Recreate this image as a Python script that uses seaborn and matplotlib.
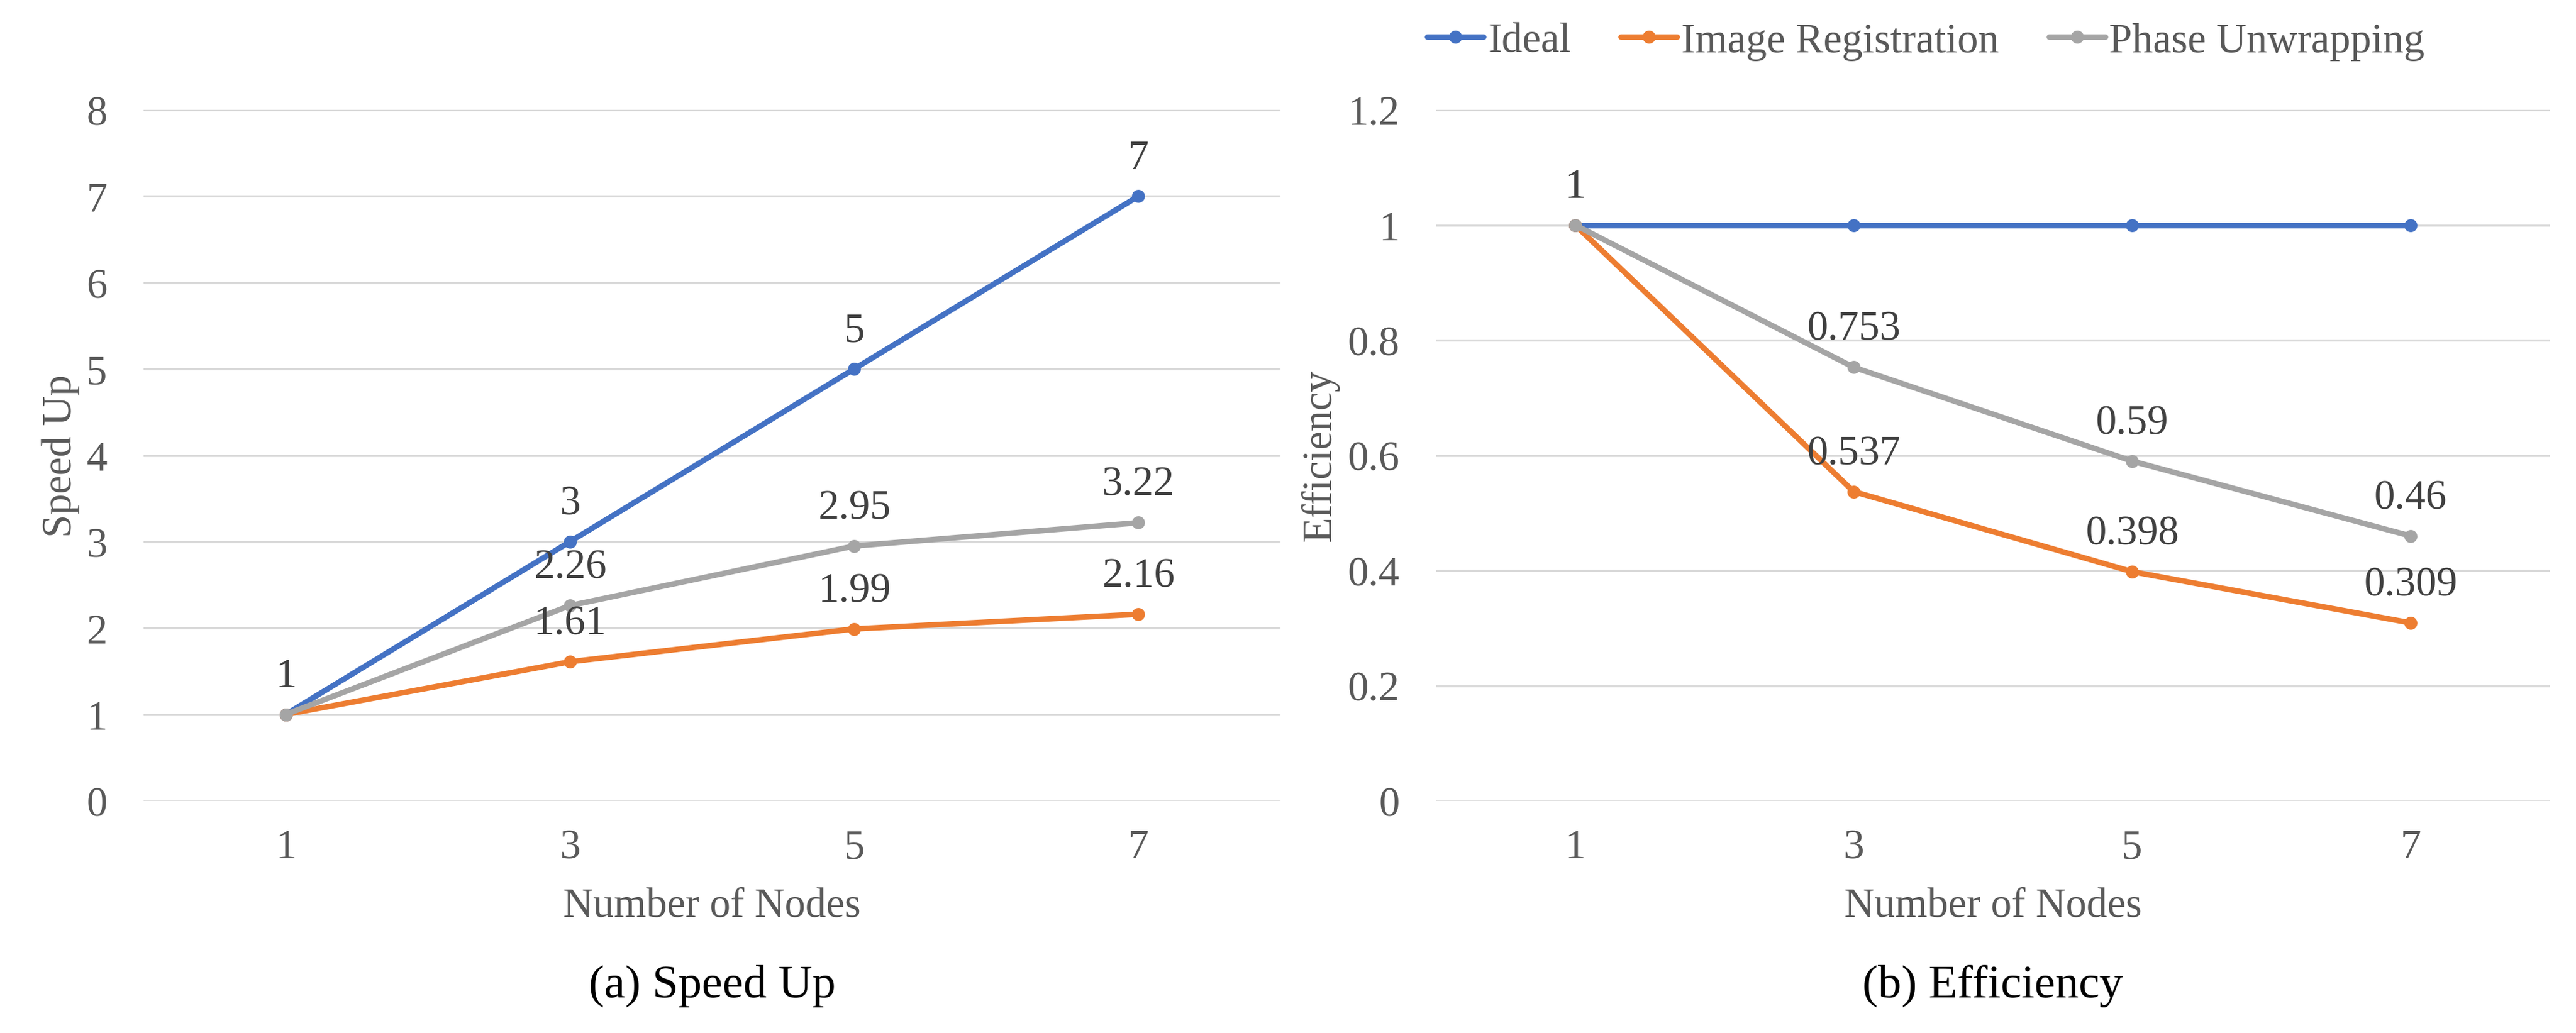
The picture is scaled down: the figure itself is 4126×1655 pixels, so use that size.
import matplotlib
matplotlib.use("Agg")
import matplotlib.pyplot as plt
import pandas as pd
import seaborn as sns
from matplotlib.lines import Line2D

# data
nodes = [1, 3, 5, 7]
series_names = ["Ideal", "Image Registration", "Phase Unwrapping"]
speedup_ideal = [1, 3, 5, 7]
speedup_registration = [1, 1.61, 1.99, 2.16]
speedup_unwrapping = [1, 2.26, 2.95, 3.22]
eff_ideal = [1, 1, 1, 1]
eff_registration = [1, 0.537, 0.398, 0.309]
eff_unwrapping = [1, 0.753, 0.59, 0.46]
speedup_ticks = [0, 1, 2, 3, 4, 5, 6, 7, 8]
eff_ticks = [0, 0.2, 0.4, 0.6, 0.8, 1, 1.2]

colors = {"Ideal": "#4472C4", "Image Registration": "#ED7D31", "Phase Unwrapping": "#A5A5A5"}


def long_frame(ideal, reg, unw):
    rows = []
    for name, vals in zip(series_names, [ideal, reg, unw]):
        for n, v in zip(nodes, vals):
            rows.append({"nodes": n, "value": v, "series": name})
    return pd.DataFrame(rows)


sns.set_theme(style="white")
plt.rcParams["font.family"] = ["Liberation Serif", "DejaVu Serif"]

W, H, DPI = 4126, 1656, 200
fig = plt.figure(figsize=(W / DPI, H / DPI), dpi=DPI)
ax1 = fig.add_axes([230 / W, 1 - 1284 / H, 1821 / W, 1107 / H])
ax2 = fig.add_axes([2300 / W, 1 - 1284 / H, 1784 / W, 1107 / H])

tick_color = "#595959"
label_color = "#404040"
fs = 24


def draw(ax, df, ticks, ylabel, caption, label_ideal_all, ylab_x):
    ax.grid(False)
    for t in ticks:
        ax.axhline(t, color="#D9D9D9", lw=1.2, zorder=0)
    sns.lineplot(data=df, x="nodes", y="value", hue="series", hue_order=series_names,
                 palette=colors, marker="o", markersize=7.5, markeredgewidth=0,
                 linewidth=3.2, legend=False, ax=ax, zorder=3)
    ax.set_xlim(0, 8)
    ax.set_ylim(ticks[0], ticks[-1])
    ax.set_xticks(nodes)
    ax.set_xticklabels([str(n) for n in nodes])
    ax.set_yticks(ticks)
    ax.set_yticklabels(["%g" % t for t in ticks])
    ax.tick_params(axis="both", length=0, labelsize=fs, labelcolor=tick_color)
    ax.tick_params(axis="x", pad=16)
    ax.tick_params(axis="y", pad=21)
    for s in ax.spines.values():
        s.set_visible(False)
    ax.set_xlabel("Number of Nodes", fontsize=fs, color=tick_color)
    ax.xaxis.label.set_va("center")
    ax.xaxis.set_label_coords(0.5, -0.152)
    ax.set_ylabel(ylabel, fontsize=fs, color=tick_color)
    ax.yaxis.label.set_va("center")
    ax.yaxis.set_label_coords(ylab_x, 0.5)
    for _, r in df.iterrows():
        if r["series"] == "Ideal" and not label_ideal_all and r["nodes"] != 1:
            continue
        ax.annotate("%g" % r["value"], (r["nodes"], r["value"]), xytext=(0, 22),
                    textcoords="offset points", ha="center", va="center",
                    fontsize=fs, color=label_color, zorder=5)
    ax.text(0.5, (1284 - 1580) / 1107, caption, transform=ax.transAxes,
            ha="center", va="center", fontsize=27, color="black")


draw(ax1, long_frame(speedup_ideal, speedup_registration, speedup_unwrapping),
     speedup_ticks, "Speed Up", "(a) Speed Up", True, -0.073)
draw(ax2, long_frame(eff_ideal, eff_registration, eff_unwrapping),
     eff_ticks, "Efficiency", "(b) Efficiency", False, -0.104)

handles = [Line2D([0], [0], color=colors[n], lw=3.2, marker="o", markersize=7.5,
                  markeredgewidth=0) for n in series_names]
leg = fig.legend(handles, series_names, loc="center", bbox_to_anchor=(3085 / W, 1 - 67 / H),
                 ncol=3, frameon=False, fontsize=fs, handlelength=1.35,
                 handletextpad=0.1, columnspacing=1.2)
for t in leg.get_texts():
    t.set_color(tick_color)

fig.savefig("out.png", dpi=DPI)
